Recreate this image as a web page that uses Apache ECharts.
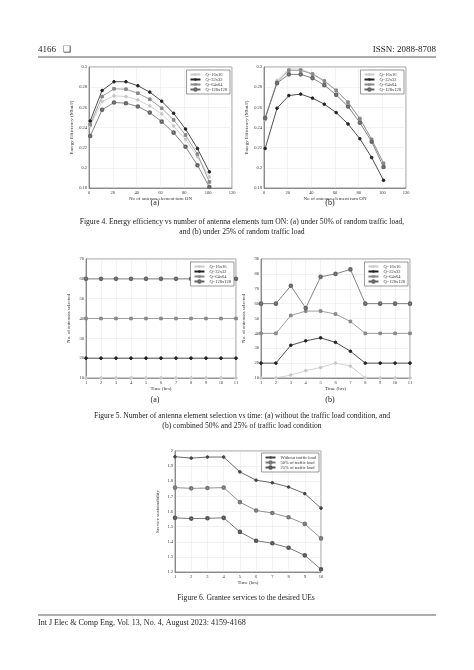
<!DOCTYPE html>
<html><head><meta charset="utf-8">
<script src="https://cdn.jsdelivr.net/npm/echarts@6/dist/echarts.min.js"></script>
<style>html,body{margin:0;padding:0;background:#fff}#c{width:474px;height:670px}</style>
</head><body><div id="c"></div>
<script>
const fig4X = [1,11,21,31,41,51,61,71,81,91,101];
const qNames = ['Q=16x16','Q=32x32','Q=64x64','Q=128x128'];
const fig4a_q16 = [0.2415,0.2658,0.2714,0.2707,0.2674,0.2614,0.2535,0.2415,0.2282,0.211,0.191];
const fig4a_q32 = [0.2465,0.2767,0.2854,0.2854,0.2814,0.2751,0.2661,0.2541,0.2385,0.2192,0.196];
const fig4a_q64 = [0.243,0.2707,0.2784,0.278,0.274,0.268,0.2591,0.2475,0.2325,0.2136,0.186];
const fig4a_q128 = [0.2315,0.2575,0.2648,0.2641,0.2608,0.2548,0.2458,0.2349,0.2209,0.2026,0.181];
const fig4b_q16 = [0.2475,0.2867,0.298,0.298,0.2933,0.2867,0.2774,0.2648,0.2491,0.2282,0.205];
const fig4b_q32 = [0.2192,0.2591,0.2717,0.2731,0.2691,0.2631,0.2548,0.2435,0.2289,0.2102,0.1876];
const fig4b_q64 = [0.2501,0.2847,0.2967,0.2967,0.293,0.286,0.2767,0.2651,0.2488,0.2282,0.2043];
const fig4b_q128 = [0.2491,0.284,0.2927,0.2927,0.289,0.282,0.2724,0.2608,0.2448,0.2259,0.2009];
const fig5X = [1,2,3,4,5,6,7,8,9,10,11];
const fig5a_q16 = [10,10,10,10,10,10,10,10,10,10,10];
const fig5a_q32 = [20,20,20,20,20,20,20,20,20,20,20];
const fig5a_q64 = [40,40,40,40,40,40,40,40,40,40,40];
const fig5a_q128 = [60,60,60,60,60,60,60,60,60,60,60];
const fig5b_q16 = [10,10,12,15,17,20,18,10,10,10,10];
const fig5b_q32 = [20,20,32,35,37,34,28,20,20,20,20];
const fig5b_q64 = [40,40,52,55,55,53,48,40,40,40,40];
const fig5b_q128 = [60,60,72,57,78,80,83,60,60,60,60];
const fig6X = [1,2,3,4,5,6,7,8,9,10];
const fig6Names = ['Without traffic load','50% of traffic load','25% of traffic load'];
const fig6_without = [1.962,1.953,1.96,1.96,1.862,1.807,1.79,1.762,1.718,1.622];
const fig6_50 = [1.758,1.753,1.755,1.758,1.662,1.607,1.59,1.562,1.518,1.422];
const fig6_25 = [1.558,1.553,1.555,1.558,1.465,1.407,1.39,1.36,1.31,1.218];

const F = 'Liberation Serif';
const qStyle = [
  {color:'#c8c8c8', symbol:'circle'},
  {color:'#222', symbol:'circle'},
  {color:'#888', symbol:'rect'},
  {color:'#666', symbol:'emptyCircle'}
];
const grids=[], xAxes=[], yAxes=[], series=[], legends=[];
function addPlot(g, x, ymin, ymax, yint, xmin, xmax, xint, xname, yname){
  const i = grids.length;
  grids.push(Object.assign({show:true, borderColor:'#555', borderWidth:0.6, backgroundColor:'#fff'}, g));
  const ax = {gridIndex:i, min:xmin, max:xmax, interval:xint, name:xname, nameLocation:'middle', nameGap:8,
    nameTextStyle:{fontFamily:F,fontSize:5,color:'#333'},
    axisLine:{lineStyle:{color:'#555',width:0.6}}, axisTick:{show:false},
    axisLabel:{fontFamily:F,fontSize:4.5,color:'#333',margin:2},
    splitLine:{show:true,lineStyle:{color:'#e4e4e4',width:0.5}}};
  xAxes.push(Object.assign({type:'value'}, ax));
  yAxes.push(Object.assign({}, ax, {type:'value', min:ymin, max:ymax, interval:yint, name:yname, nameGap:15}));
  return i;
}
function addSeries(i, xs, ys, name, st){
  series.push({type:'line', name:name, xAxisIndex:i, yAxisIndex:i, data:xs.map((x,k)=>[x,ys[k]]),
    symbol:st.symbol, symbolSize:2.6, lineStyle:{color:st.color,width:0.8},
    itemStyle:{color:st.color,borderColor:st.color}, animation:false});
}
function addLegend(names, right, top){
  legends.push({data:names, right:right, top:top, orient:'vertical', itemWidth:10, itemHeight:3, itemGap:0,
    padding:[2,3], borderColor:'#555', borderWidth:0.6, backgroundColor:'#fff',
    textStyle:{fontFamily:F,fontSize:4.5,color:'#333'}, selectedMode:false});
}
let i = addPlot({left:89,top:67,width:143,height:121},fig4X,0.18,0.3,0.02,0,120,20,'No of antenna element turn ON','Energy Efficiency (Mbit/J)');
[fig4a_q16,fig4a_q32,fig4a_q64,fig4a_q128].forEach((d,k)=>addSeries(i,fig4X,d,qNames[k],qStyle[k]));
i = addPlot({left:264,top:67,width:142,height:121},fig4X,0.18,0.3,0.02,0,120,20,'No of antenna element turn ON','Energy Efficiency (Mbit/J)');
[fig4b_q16,fig4b_q32,fig4b_q64,fig4b_q128].forEach((d,k)=>addSeries(i,fig4X,d,qNames[k],qStyle[k]));
i = addPlot({left:86,top:259,width:150,height:119},fig5X,10,70,10,1,11,1,'Time (hrs)','No. of antennas selected');
[fig5a_q16,fig5a_q32,fig5a_q64,fig5a_q128].forEach((d,k)=>addSeries(i,fig5X,d,qNames[k],qStyle[k]));
i = addPlot({left:261,top:259,width:149,height:119},fig5X,10,90,10,1,11,1,'Time (hrs)','No. of antennas selected');
[fig5b_q16,fig5b_q32,fig5b_q64,fig5b_q128].forEach((d,k)=>addSeries(i,fig5X,d,qNames[k],qStyle[k]));
i = addPlot({left:175,top:451,width:146,height:121},fig6X,1.2,2,0.1,1,10,1,'Time (hrs)','Service sustainability');
const s6 = [{color:'#444',symbol:'circle'},{color:'#777',symbol:'emptyCircle'},{color:'#555',symbol:'emptyCircle'}];
[fig6_without,fig6_50,fig6_25].forEach((d,k)=>addSeries(i,fig6X,d,fig6Names[k],s6[k]));
addLegend(qNames, 474-230, 70);
addLegend(qNames, 474-404, 70);
addLegend(qNames, 474-234, 262);
addLegend(qNames, 474-408, 262);
addLegend(fig6Names, 474-319, 453);

const T = (x,y,t,fs,align)=>({type:'text',x:x,y:y,style:{text:t,font:fs+'px "Liberation Serif"',fill:'#222',align:align||'left'}});
const graphic = [
  T(38,45,'4166   \u2751',9),
  T(436,45,'ISSN: 2088-8708',9,'right'),
  {type:'line',shape:{x1:38,y1:57,x2:436,y2:57},style:{stroke:'#333',lineWidth:0.8}},
  T(155,199,'(a)',8,'center'),
  T(330,199,'(b)',8,'center'),
  T(242,218,'Figure 4. Energy efficiency vs number of antenna elements turn ON: (a) under 50% of random traffic load,',7.6,'center'),
  T(242,228,'and (b) under 25% of random traffic load',7.6,'center'),
  T(155,396,'(a)',8,'center'),
  T(330,396,'(b)',8,'center'),
  T(242,412,'Figure 5. Number of antenna element selection vs time: (a) without the traffic load condition, and',7.6,'center'),
  T(242,422,'(b) combined 50% and 25% of traffic load condition',7.6,'center'),
  T(246,594,'Figure 6. Grantee services to the desired UEs',7.6,'center'),
  {type:'line',shape:{x1:38,y1:615,x2:436,y2:615},style:{stroke:'#333',lineWidth:0.8}},
  T(38,619,'Int J Elec & Comp Eng, Vol. 13, No. 4, August 2023: 4159-4168',8)
];
const chart = echarts.init(document.getElementById('c'));
chart.setOption({animation:false, grid:grids, xAxis:xAxes, yAxis:yAxes, series:series, legend:legends, graphic:graphic});
</script></body></html>
